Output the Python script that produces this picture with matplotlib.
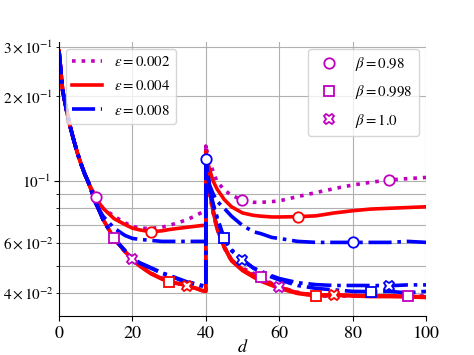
import matplotlib
matplotlib.use("Agg")
import math
import matplotlib.pyplot as plt
from matplotlib.lines import Line2D
from matplotlib.ticker import FuncFormatter

plt.rcParams['font.family'] = 'STIXGeneral'
plt.rcParams['mathtext.fontset'] = 'stix'
plt.rcParams['font.size'] = 13

# distance d (40 appears twice: value just before and at the jump)
d = [0, 1, 2, 3, 4, 5, 6, 7, 8,
     10, 12, 15, 18, 20, 22, 25, 28, 30, 33, 35, 37, 39,
     40, 40,
     41, 42, 43, 45, 47, 50, 53, 55, 58, 60,
     65, 70, 75, 80, 85, 90, 95, 100]

# shared start (d = 0..8)
head = [0.29, 0.21, 0.18, 0.157, 0.14, 0.126, 0.115, 0.106, 0.099]

# eps = 0.002
m_098 = [0.0878, 0.080, 0.075, 0.071, 0.069, 0.068, 0.0678, 0.0685, 0.0695, 0.0715, 0.073, 0.075, 0.0775,
         0.078, 0.133,
         0.118, 0.108, 0.100, 0.093, 0.089, 0.0855, 0.084, 0.084, 0.0845, 0.085,
         0.088, 0.091, 0.094, 0.0968, 0.099, 0.101, 0.102, 0.103]
m_0998 = [0.084, 0.073, 0.0625, 0.056, 0.0527, 0.050, 0.047, 0.045, 0.0437, 0.043, 0.0424, 0.0418, 0.0408,
          0.0405, 0.133,
          0.090, 0.077, 0.068, 0.058, 0.052, 0.0485, 0.0465, 0.0455, 0.043, 0.042,
          0.040, 0.039, 0.039, 0.039, 0.039, 0.039, 0.039, 0.0388]
m_1 = [0.084, 0.073, 0.0625, 0.0562, 0.0527, 0.050, 0.047, 0.0452, 0.044, 0.0432, 0.0425, 0.0418, 0.0409,
       0.0406, 0.133,
       0.091, 0.078, 0.069, 0.0585, 0.0525, 0.049, 0.047, 0.0458, 0.0432, 0.042,
       0.0402, 0.0392, 0.039, 0.0392, 0.039, 0.039, 0.0391, 0.039]

# eps = 0.004
r_098 = [0.087, 0.080, 0.0735, 0.070, 0.068, 0.067, 0.066, 0.0665, 0.0672, 0.068, 0.0685, 0.069, 0.0695,
         0.0695, 0.127,
         0.110, 0.100, 0.094, 0.086, 0.081, 0.077, 0.0755, 0.075, 0.0745, 0.0745,
         0.0747, 0.0752, 0.077, 0.0784, 0.0795, 0.080, 0.0805, 0.081]
r_0998 = [0.084, 0.073, 0.0625, 0.056, 0.0527, 0.0498, 0.0468, 0.0448, 0.0437, 0.043, 0.0424, 0.0416, 0.0407,
          0.0405, 0.127,
          0.092, 0.078, 0.068, 0.058, 0.052, 0.048, 0.0455, 0.044, 0.0425, 0.0415,
          0.0398, 0.039, 0.0392, 0.039, 0.0388, 0.0388, 0.0387, 0.0385]
r_1 = [0.084, 0.073, 0.0625, 0.0562, 0.0528, 0.050, 0.047, 0.045, 0.0438, 0.0431, 0.0424, 0.0417, 0.0408,
       0.0406, 0.127,
       0.093, 0.079, 0.069, 0.0585, 0.0525, 0.0485, 0.046, 0.0445, 0.043, 0.042,
       0.040, 0.0393, 0.0394, 0.0392, 0.039, 0.0391, 0.0389, 0.0387]

# eps = 0.008
b_098 = [0.083, 0.075, 0.068, 0.064, 0.0625, 0.062, 0.0615, 0.061, 0.061, 0.061, 0.061, 0.061, 0.061,
         0.061, 0.120,
         0.097, 0.090, 0.085, 0.080, 0.075, 0.0695, 0.066, 0.065, 0.063, 0.0625,
         0.061, 0.0605, 0.0605, 0.0605, 0.0605, 0.0605, 0.061, 0.0605]
b_0998 = [0.084, 0.073, 0.0625, 0.0565, 0.053, 0.051, 0.049, 0.047, 0.046, 0.0445, 0.0435, 0.043, 0.0423,
          0.042, 0.120,
          0.095, 0.083, 0.075, 0.0625, 0.057, 0.0525, 0.049, 0.0475, 0.0455, 0.0445,
          0.0425, 0.0415, 0.041, 0.0405, 0.0404, 0.0405, 0.040, 0.0405]
b_1 = [0.084, 0.073, 0.0625, 0.0565, 0.0532, 0.0512, 0.0492, 0.0472, 0.0462, 0.0447, 0.0437, 0.0432, 0.0425,
       0.0422, 0.120,
       0.093, 0.082, 0.074, 0.062, 0.0565, 0.0523, 0.049, 0.0478, 0.046, 0.045,
       0.0435, 0.0428, 0.0425, 0.0425, 0.0425, 0.0424, 0.0427, 0.0427]

eps_labels = [r'$\varepsilon=0.002$', r'$\varepsilon=0.004$', r'$\varepsilon=0.008$']
beta_labels = [r'$\beta=0.98$', r'$\beta=0.998$', r'$\beta=1.0$']
colors = ['m', 'r', 'b']
styles = [':', '-', '-.']
markers = ['o', 's', 'X']

curves = [[m_098, m_0998, m_1], [r_098, r_0998, r_1], [b_098, b_0998, b_1]]

# marker positions along d for each (eps, beta)
mark_d = [[[10, 50, 90], [15, 55, 95], [20, 60]],
          [[25, 65], [30, 70], [35, 75]],
          [[40, 80], [45, 85], [50, 90]]]


def idx_of(v):
    return len(d) - 1 - d[::-1].index(v)


def log_label(v, pos):
    e = math.floor(math.log10(v) + 1e-9)
    m = int(round(v / 10 ** e))
    if m == 1:
        return r'$10^{%d}$' % e
    if m in (2, 3, 4, 6):
        return r'$%d\,{\times}\,10^{%d}$' % (m, e)
    return ''


fig = plt.figure(figsize=(4.74, 3.55), dpi=100)
ax = fig.add_axes([0.1245, 0.1099, 0.7742, 0.7718])

for i in range(3):
    for j in range(3):
        ax.plot(d, head + curves[i][j], color=colors[i], ls=styles[i], lw=2.6, zorder=2)

for i in range(3):
    for j in range(3):
        y = head + curves[i][j]
        ax.plot(d, y, ls='none', marker=markers[j], ms=7.5, mfc='w',
                mec=colors[i], mew=1.3, markevery=[idx_of(v) for v in mark_d[i][j]], zorder=3)

ax.set_yscale('log')
ax.set_xlim(0, 100)
ax.set_ylim(0.0331, 0.3125)
ax.set_xticks([0, 20, 40, 60, 80, 100])
ax.yaxis.set_major_formatter(FuncFormatter(log_label))
ax.yaxis.set_minor_formatter(FuncFormatter(log_label))
ax.tick_params(axis='y', which='both', labelsize=11, pad=2)
ax.grid(True, which='both', axis='y', color='#b0b0b0', lw=0.8)
ax.grid(True, which='major', axis='x', color='#b0b0b0', lw=0.8)
ax.set_axisbelow(True)
ax.spines['top'].set_visible(False)
ax.spines['right'].set_visible(False)
ax.set_xlabel('$d$', labelpad=-2)

h1 = [Line2D([], [], color=colors[i], ls=styles[i], lw=2.6) for i in range(3)]
leg1 = ax.legend(h1, eps_labels, loc='upper left', fontsize=10.7, labelspacing=0.68)
ax.add_artist(leg1)
h2 = [Line2D([], [], ls='none', marker=markers[j], ms=7.5, mfc='w', mec='m', mew=1.3) for j in range(3)]
ax.legend(h2, beta_labels, loc='upper right', fontsize=10.7, labelspacing=0.68)

fig.savefig('out.png', dpi=100)
